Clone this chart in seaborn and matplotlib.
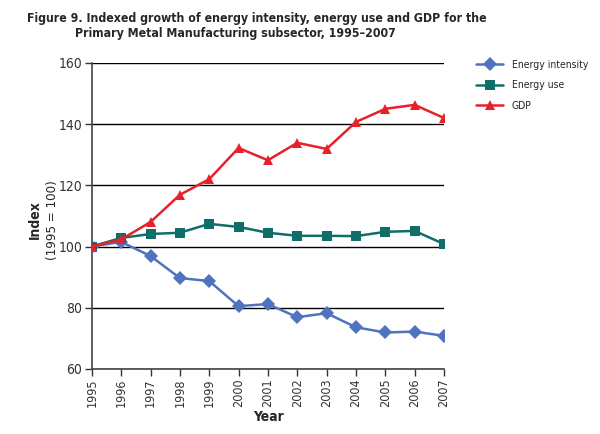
import matplotlib
matplotlib.use("Agg")
import matplotlib.pyplot as plt
import pandas as pd
import seaborn as sns

years = list(range(1995, 2008))
energy_intensity = [100, 101.5, 96.9, 89.7, 88.7, 80.5, 81.2, 76.9, 78.2, 73.6, 71.9, 72.2, 70.8]
energy_use = [100, 102.8, 104.1, 104.5, 107.4, 106.4, 104.5, 103.5, 103.5, 103.4, 104.8, 105.1, 100.8]
gdp = [100, 102.3, 108.0, 116.9, 122.0, 132.2, 128.2, 133.9, 131.9, 140.7, 145.0, 146.3, 142.0]

series_names = ["Energy intensity", "Energy use", "GDP"]
colors = ["#4F73BE", "#0F6E6A", "#E8202A"]
markers = ["D", "s", "^"]

df = pd.DataFrame({
    "Year": years * 3,
    "Index": energy_intensity + energy_use + gdp,
    "Series": [n for n in series_names for _ in years],
})

sns.set_style("ticks")
plt.rcParams["font.family"] = ["DejaVu Sans"]
plt.rcParams["font.stretch"] = "condensed"

fig = plt.figure(figsize=(6, 4.34), dpi=100)
ax = fig.add_axes([0.153, 0.15, 0.587, 0.705])

sns.lineplot(
    data=df, x="Year", y="Index", hue="Series", style="Series",
    palette=colors, markers=markers, dashes=False, markersize=7,
    markeredgewidth=0, linewidth=1.8, ax=ax, zorder=3,
)

ax.set_xlim(1995, 2007)
ax.set_ylim(60, 160)
ax.set_xticks(years)
ax.set_xticklabels([str(y) for y in years], rotation=90, fontsize=9, color="#333333")
ax.set_yticks([60, 80, 100, 120, 140, 160])
ax.tick_params(axis="y", labelsize=10, colors="#333333", length=5, width=1, pad=2)
ax.tick_params(axis="x", length=5, width=1, colors="#333333", pad=2)
ax.yaxis.grid(True, color="black", linewidth=1)
ax.set_axisbelow(True)
sns.despine(ax=ax)
for s in ["left", "bottom"]:
    ax.spines[s].set_color("#444444")
    ax.spines[s].set_linewidth(1.2)
ax.set_xlabel("")
ax.set_ylabel("")

fig.text(0.447, 0.04, "Year", ha="center", va="center", fontsize=10, fontweight="bold")
fig.text(0.058, 0.493, "Index", ha="center", va="center", rotation=90,
         fontsize=10, fontweight="bold")
fig.text(0.087, 0.493, "(1995 = 100)", ha="center", va="center", rotation=90, fontsize=9.5)

fig.text(0.045, 0.958, "Figure 9. Indexed growth of energy intensity, energy use and GDP for the",
         ha="left", va="center", fontsize=8.8, fontweight="bold")
fig.text(0.125, 0.923, "Primary Metal Manufacturing subsector, 1995\u20132007",
         ha="left", va="center", fontsize=8.8, fontweight="bold")

ax.legend(loc="upper left", bbox_to_anchor=(1.065, 1.04), frameon=False,
          fontsize=7.5, handlelength=2.6, labelspacing=1.0)

fig.savefig("out.png", dpi=100)
